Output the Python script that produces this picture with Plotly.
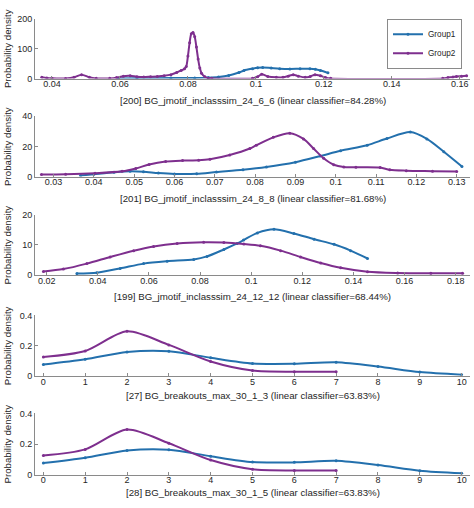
import plotly.graph_objects as go

FONT = "Liberation Sans, Arial, Helvetica, sans-serif"
BLUE = "#2370ad"
PURPLE = "#7e2f8e"
AXIS_GRAY = "#8a8a8a"
TEXT = "#262626"

# ---------------- data ----------------
# Panel 1: [200] BG_jmotif_inclasssim_24_6_6
p1_g1_x = [0.0594, 0.065, 0.075, 0.082, 0.086, 0.089, 0.092, 0.095, 0.0965, 0.099, 0.1005,
           0.102, 0.1045, 0.107, 0.110, 0.113, 0.1159, 0.1175, 0.119, 0.1212]
p1_g1_y = [0.3, 0.8, 1.5, 2, 3, 5, 10, 20, 27, 33, 36, 37, 35, 33, 32, 32.5, 32.5, 31, 27, 19]
p1_g2_x = [0.037, 0.0385, 0.040, 0.044, 0.0465, 0.0487, 0.051, 0.053, 0.057, 0.059, 0.061,
           0.063, 0.065, 0.067, 0.069, 0.071, 0.073, 0.075, 0.0767, 0.078, 0.079, 0.0795,
           0.080, 0.0805, 0.081, 0.0815, 0.082, 0.0825, 0.083, 0.0835, 0.084, 0.085, 0.086,
           0.087, 0.099, 0.1005, 0.1017, 0.1035, 0.106, 0.108, 0.1095, 0.111, 0.1125, 0.1145,
           0.116, 0.1174, 0.119, 0.1205, 0.122, 0.155, 0.1565, 0.158, 0.159, 0.1605, 0.162]
p1_g2_y = [4, 1.5, 0.5, 0.3, 4, 13, 4, 0.5, 0.5, 3, 8,
           9, 6, 5, 6, 7, 9, 13, 20, 27, 33, 40,
           75, 120, 150, 154, 140, 105, 65, 35, 18, 6, 1,
           0.5, 0.5, 6, 14, 7, 4, 4, 8, 13, 8, 4,
           7, 13, 9, 3, 0.5, 0.5, 3, 5, 7, 8, 9]

# Panel 2: [201] BG_jmotif_inclasssim_24_8_8
p2_g1_x = [0.0367, 0.040, 0.045, 0.049, 0.0523, 0.056, 0.060, 0.0655, 0.0704, 0.077,
           0.0828, 0.090, 0.0962, 0.1012, 0.1078, 0.1127, 0.1185, 0.1226, 0.1268, 0.1313]
p2_g1_y = [0.65, 1.5, 2.8, 3.5, 3.2, 2.3, 1.7, 1.8, 3.0, 4.5,
           6.3, 9.5, 13.6, 17.1, 20.8, 25.2, 29.5, 25.0, 16.5, 6.7]
p2_g2_x = [0.0270, 0.033, 0.0403, 0.047, 0.0504, 0.0537, 0.0578, 0.062, 0.066, 0.0688,
           0.0737, 0.0787, 0.0803, 0.0845, 0.0886, 0.092, 0.0945, 0.097, 0.0995, 0.102,
           0.105, 0.111, 0.1134, 0.1175, 0.124, 0.130]
p2_g2_y = [1.3, 1.5, 2.2, 3.5, 5.4, 8.0, 10.0, 10.6, 10.8, 11.5,
           14.3, 18.6, 20.8, 26.0, 28.8, 25.0, 18.6, 12.1, 7.8, 6.3,
           6.2, 6.0, 4.5, 3.9, 3.6, 3.3]

# Panel 3: [199] BG_jmotif_inclasssim_24_12_12
p3_g1_x = [0.0318, 0.0396, 0.0487, 0.0579, 0.0671, 0.0775, 0.0827, 0.0893, 0.0945, 0.097,
           0.1024, 0.1089, 0.1167, 0.1246, 0.1324, 0.1389, 0.1455]
p3_g1_y = [0.5, 0.8, 2.2, 3.8, 4.6, 5.2, 6.2, 8.5, 10.5, 11.6,
           14.0, 15.2, 13.8, 11.9, 10.2, 8.1, 5.5]
p3_g2_x = [0.0187, 0.0265, 0.0357, 0.0448, 0.054, 0.0618, 0.071, 0.0814, 0.0893, 0.0971,
           0.1036, 0.1115, 0.1193, 0.1272, 0.135, 0.1455, 0.1573, 0.1703, 0.1827]
p3_g2_y = [1.2, 2.0, 3.8, 6.0, 8.1, 9.5, 10.5, 10.9, 10.8, 10.3,
           9.7, 8.1, 6.0, 4.0, 2.4, 1.1, 0.7, 0.6, 0.6]

# Panels 4 and 5: [27] / [28] BG_breakouts_max_30_1_3 / _1_5
p4_g1_x = [0, 1, 2, 3, 4, 5, 6, 7, 8, 9, 10]
p4_g1_y = [0.075, 0.11, 0.158, 0.163, 0.12, 0.082, 0.08, 0.09, 0.062, 0.025, 0.008]
p4_g2_x = [0, 1, 2, 3, 4, 5, 6, 7]
p4_g2_y = [0.125, 0.165, 0.295, 0.205, 0.095, 0.035, 0.027, 0.027]
p5_g1_x = [0, 1, 2, 3, 4, 5, 6, 7, 8, 9, 10]
p5_g1_y = [0.075, 0.11, 0.158, 0.163, 0.12, 0.082, 0.08, 0.09, 0.062, 0.025, 0.008]
p5_g2_x = [0, 1, 2, 3, 4, 5, 6, 7]
p5_g2_y = [0.125, 0.165, 0.295, 0.205, 0.095, 0.035, 0.027, 0.027]

titles = [
    "[200] BG_jmotif_inclasssim_24_6_6 (linear classifier=84.28%)",
    "[201] BG_jmotif_inclasssim_24_8_8 (linear classifier=81.68%)",
    "[199] BG_jmotif_inclasssim_24_12_12 (linear classifier=68.44%)",
    "[27] BG_breakouts_max_30_1_3 (linear classifier=63.83%)",
    "[28] BG_breakouts_max_30_1_5 (linear classifier=63.83%)",
]
series_names = ["Group1", "Group2"]
y_label = "Probability density"

x_ticks = [
    [0.04, 0.06, 0.08, 0.10, 0.12, 0.14, 0.16],
    [0.03, 0.04, 0.05, 0.06, 0.07, 0.08, 0.09, 0.10, 0.11, 0.12, 0.13],
    [0.02, 0.04, 0.06, 0.08, 0.10, 0.12, 0.14, 0.16, 0.18],
    [0, 1, 2, 3, 4, 5, 6, 7, 8, 9, 10],
    [0, 1, 2, 3, 4, 5, 6, 7, 8, 9, 10],
]
x_ticktext = [
    ["0.04", "0.06", "0.08", "0.1", "0.12", "0.14", "0.16"],
    ["0.03", "0.04", "0.05", "0.06", "0.07", "0.08", "0.09", "0.1", "0.11", "0.12", "0.13"],
    ["0.02", "0.04", "0.06", "0.08", "0.1", "0.12", "0.14", "0.16", "0.18"],
    ["0", "1", "2", "3", "4", "5", "6", "7", "8", "9", "10"],
    ["0", "1", "2", "3", "4", "5", "6", "7", "8", "9", "10"],
]
y_ticks = [[0, 100, 200], [0, 20, 40], [0, 10, 20], [0, 0.2, 0.4], [0, 0.2, 0.4]]
y_ticktext = [["0", "100", "200"], ["0", "20", "40"], ["0", "10", "20"],
              ["0", "0.2", "0.4"], ["0", "0.2", "0.4"]]
x_ranges = [[0.035, 0.163], [0.0254, 0.1333], [0.0154, 0.1856], [-0.2, 10.2], [-0.2, 10.2]]
y_ranges = [[0, 200], [0, 40], [0, 20], [0, 0.4], [0, 0.4]]

panels = [
    (p1_g1_x, p1_g1_y, p1_g2_x, p1_g2_y),
    (p2_g1_x, p2_g1_y, p2_g2_x, p2_g2_y),
    (p3_g1_x, p3_g1_y, p3_g2_x, p3_g2_y),
    (p4_g1_x, p4_g1_y, p4_g2_x, p4_g2_y),
    (p5_g1_x, p5_g1_y, p5_g2_x, p5_g2_y),
]

# ---------------- layout geometry (pixels) ----------------
W, H = 474, 508
PLOT_LEFT, PLOT_RIGHT = 35, 470
panel_px = [(14, 75), (113.5, 175), (214, 275.5), (316.7, 378.3), (416.7, 479)]
title_px = [97, 197, 297.5, 398, 497]

TICK_SIZE = 9.0
TITLE_SIZE = 9.7
YLAB_SIZE = 9.7

fig = go.Figure()
layout = dict(
    width=W, height=H,
    margin=dict(l=0, r=0, t=0, b=0),
    paper_bgcolor="white", plot_bgcolor="white",
    font=dict(family=FONT, size=TICK_SIZE, color=TEXT),
    annotations=[],
)

for i, (gx1, gy1, gx2, gy2) in enumerate(panels):
    n = i + 1
    xa = "x" if n == 1 else f"x{n}"
    ya = "y" if n == 1 else f"y{n}"
    for k, (xs, ys, col) in enumerate([(gx1, gy1, BLUE), (gx2, gy2, PURPLE)]):
        fig.add_trace(go.Scatter(
            x=xs, y=ys, xaxis=xa, yaxis=ya,
            mode="lines+markers",
            line=dict(color=col, width=2, shape="spline", smoothing=0.8),
            marker=dict(color=col, size=3),
            name=series_names[k], legendgroup=series_names[k],
            showlegend=(n == 1),
        ))
    top, bot = panel_px[i]
    dom_y = [1 - bot / H, 1 - top / H]
    axis_common = dict(
        showline=True, linecolor=AXIS_GRAY, linewidth=1,
        ticks="inside", ticklen=3, tickcolor=AXIS_GRAY, tickwidth=1,
        showgrid=False, zeroline=False, mirror=False,
        tickfont=dict(family=FONT, size=TICK_SIZE, color=TEXT),
    )
    layout[f"xaxis{'' if n == 1 else n}"] = dict(
        axis_common, domain=[PLOT_LEFT / W, PLOT_RIGHT / W], anchor=ya,
        range=x_ranges[i], tickvals=x_ticks[i], ticktext=x_ticktext[i],
        ticklabelstandoff=-3,
    )
    layout[f"yaxis{'' if n == 1 else n}"] = dict(
        axis_common, domain=dom_y, anchor=xa,
        range=y_ranges[i], tickvals=y_ticks[i], ticktext=y_ticktext[i],
    )
    layout["annotations"].append(dict(
        text=titles[i], xref="paper", yref="paper",
        x=(PLOT_LEFT + PLOT_RIGHT) / 2 / W, y=1 - title_px[i] / H,
        xanchor="center", yanchor="middle", showarrow=False,
        font=dict(family=FONT, size=TITLE_SIZE, color=TEXT),
    ))
    layout["annotations"].append(dict(
        text=y_label, xref="paper", yref="paper",
        x=7.5 / W, y=1 - (top + bot) / 2 / H, textangle=-90,
        xanchor="center", yanchor="middle", showarrow=False,
        font=dict(family=FONT, size=YLAB_SIZE, color=TEXT),
    ))

layout["legend"] = dict(
    x=462 / W, y=1 - 14 / H, xanchor="right", yanchor="top",
    bgcolor="white", bordercolor=AXIS_GRAY, borderwidth=1,
    font=dict(family=FONT, size=8.2, color=TEXT),
    tracegroupgap=0, itemwidth=30,
)
fig.update_layout(**layout)
fig.write_html("out.html")
